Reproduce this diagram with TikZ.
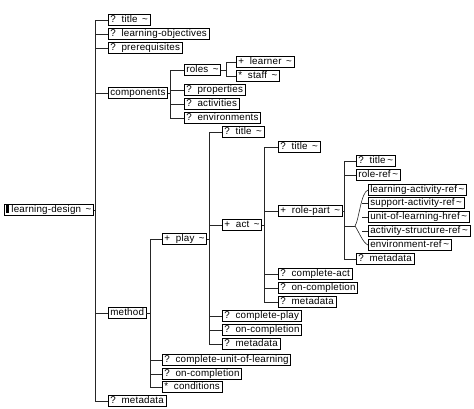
\documentclass[tikz,border=0pt]{standalone}
\usepackage{fontspec}
\setmainfont{Liberation Sans}[LetterSpace=2]
\usepackage{tikz}
\usetikzlibrary{positioning, shadows, calc}

\newcommand{\tl}{\,\textasciitilde}
\newcommand{\opt}{?\ \ }

\begin{document}
\begin{tikzpicture}[x=1pt, y=-1pt,
      elem/.style={rectangle, draw, fill=white, anchor=west, font=\fontsize{9.8}{10}\selectfont,
        inner xsep=2pt, inner ysep=1pt, text height=6.8pt, text depth=2pt, line width=0.6pt,
        general shadow={shadow xshift=0.7pt, shadow yshift=-0.7pt, fill=black!45}},
      link/.style={line width=0.6pt, black!85}]

      \useasboundingbox (0,0) rectangle (474,409);

      % root
      \node[elem] (root) at (4,210) {\rule[-0.5pt]{2.2pt}{8pt}\ learning-design\ \tl};

      % first level
      \node[elem] (title) at (108,20) {\opt title\ \tl};
      \node[elem] (objectives) at (108,34) {\opt learning-objectives};
      \node[elem] (prereq) at (108,48) {\opt prerequisites};
      \node[elem] (components) at (108,93) {components};
      \node[elem] (method) at (108,313) {method};
      \node[elem] (metadata) at (108,401) {\opt metadata};

      % components
      \node[elem] (roles) at (184,70) {roles\ \tl};
      \node[elem] (properties) at (184,90) {\opt properties};
      \node[elem] (activities) at (184,104) {\opt activities};
      \node[elem] (environments) at (184,118) {\opt environments};
      \node[elem] (learner) at (236,62) {+\ \ learner\ \tl};
      \node[elem] (staff) at (236,76) {*\ \ staff\ \tl};

      % method
      \node[elem] (play) at (162,239) {+\ \ play\ \tl};
      \node[elem] (cul) at (162,360) {\opt complete-unit-of-learning};
      \node[elem] (mcompl) at (162,374) {\opt on-completion};
      \node[elem] (conditions) at (162,387) {*\ \ conditions};

      % play
      \node[elem] (ptitle) at (222,132) {\opt title\ \tl};
      \node[elem] (act) at (222,225) {+\ \ act\ \tl};
      \node[elem] (cplay) at (222,316) {\opt complete-play};
      \node[elem] (pcompl) at (222,330) {\opt on-completion};
      \node[elem] (pmeta) at (222,344) {\opt metadata};

      % act
      \node[elem] (atitle) at (278,147) {\opt title\ \tl};
      \node[elem] (rolepart) at (278,211) {+\ \ role-part\ \tl};
      \node[elem] (cact) at (278,274) {\opt complete-act};
      \node[elem] (acompl) at (278,288) {\opt on-completion};
      \node[elem] (ameta) at (278,302) {\opt metadata};

      % role-part
      \node[elem] (rtitle) at (356,161) {\opt title\tl};
      \node[elem] (roleref) at (356,175) {role-ref\tl};
      \node[elem] (laref) at (368,190) {learning-activity-ref\tl};
      \node[elem] (saref) at (368,203) {support-activity-ref\tl};
      \node[elem] (ulhref) at (368,217) {unit-of-learning-href\tl};
      \node[elem] (asref) at (368,231) {activity-structure-ref\tl};
      \node[elem] (envref) at (368,245) {environment-ref\tl};
      \node[elem] (rmeta) at (356,259) {\opt metadata};
      \coordinate (choice) at (355,226);

      % Lines
      \foreach \c in {title, objectives, prereq, components, method, metadata} {
        \draw[link] (root.east) -- ++(2,0) |- (\c.west);
      }
      \foreach \c in {roles, properties, activities, environments} {
        \draw[link] (components.east) -- ++(3,0) |- (\c.west);
      }
      \foreach \c in {learner, staff} {
        \draw[link] (roles.east) -- ++(5,0) |- (\c.west);
      }
      \foreach \c in {play, cul, mcompl, conditions} {
        \draw[link] (method.east) -- ++(4,0) |- (\c.west);
      }
      \foreach \c in {ptitle, act, cplay, pcompl, pmeta} {
        \draw[link] (play.east) -- ++(2,0) |- (\c.west);
      }
      \foreach \c in {atitle, rolepart, cact, acompl, ameta} {
        \draw[link] (act.east) -- ++(2,0) |- (\c.west);
      }
      \foreach \c in {rtitle, roleref, choice, rmeta} {
        \draw[link] (rolepart.east) -- ++(2,0) |- (\c);
      }
      % choice bracket
      \draw[link] (laref.west) .. controls (361,192) and (359,220) .. (choice);
      \draw[link] (envref.west) .. controls (363,243) and (359,232) .. (choice);
      \foreach \c in {saref, ulhref, asref} {
        \draw[link] (\c.west) -- ++(-6,0);
      }
    \end{tikzpicture}
\end{document}
